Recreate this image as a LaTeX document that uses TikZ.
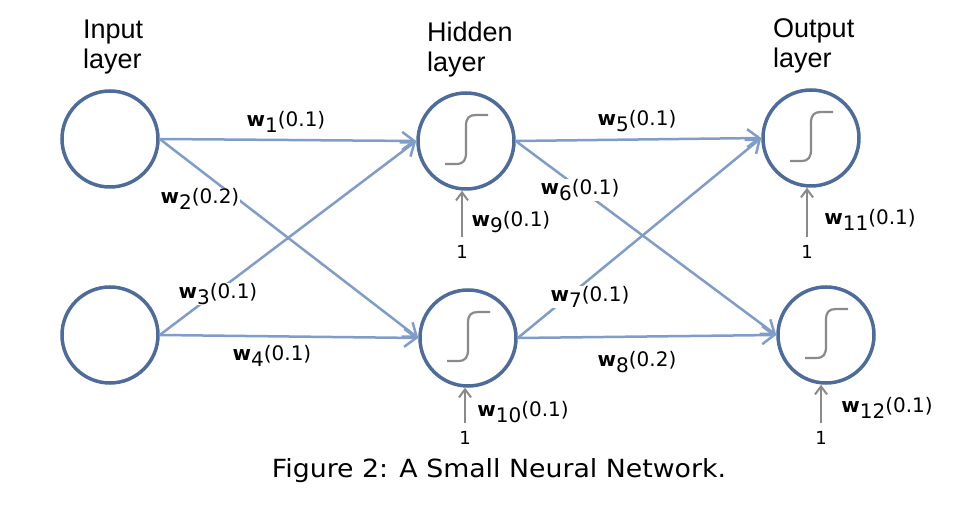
\documentclass[tikz,border=0pt]{standalone}
\usepackage{fontspec}
\setmainfont{Liberation Sans}
\newfontfamily\wfont{DejaVu Sans}
\newfontfamily\capfont[FakeStretch=1.07]{DejaVu Sans}
\usetikzlibrary{arrows.meta}
\definecolor{ringblue}{HTML}{4D6C9B}
\definecolor{wireblue}{HTML}{7F9DC8}
\definecolor{sigray}{HTML}{8A8A8A}
\newcommand{\wt}[2]{\textbf{w}\raisebox{-.5ex}{#1}(#2)}
\begin{document}
\begin{tikzpicture}[x=1pt,y=-1pt,>={Straight Barb[length=12pt,width=18pt]},
  neuron/.style={circle,draw=ringblue,line width=3.5pt,minimum size=96pt,inner sep=0pt},
  wire/.style={->,draw=wireblue,line width=2.5pt},
  bias/.style={-{Straight Barb[length=8pt,width=12pt]},draw=sigray,line width=2pt},
  wlab/.style={font=\wfont\fontsize{20}{22}\selectfont,fill=white,inner sep=1pt},
  one/.style={font=\wfont\fontsize{18}{20}\selectfont,inner sep=0pt,outer sep=8pt},
  head/.style={font=\fontsize{27}{30}\selectfont,align=left,anchor=north west,inner sep=0pt},
  pics/sigm/.style={code={\draw[sigray,line width=2.2pt](-21,23)--(-10,23) .. controls (-2,23) and (0,19) .. (0,11)--(0,-15) .. controls (0,-23) and (3,-26) .. (10,-26)--(22,-26);}}]
\useasboundingbox (0,0) rectangle (956,510);
% layers
\node[head] (tin) at (83,20) {Input\\layer};
\node[head] (thid) at (427,22) {Hidden\\layer};
\node[head] (tout) at (773,18) {Output\\layer};
\node[neuron] (i1) at (110,139) {};
\node[neuron] (i2) at (110,335) {};
\node[neuron] (h1) at (466,141) {};
\node[neuron] (h2) at (468,338) {};
\node[neuron] (o1) at (811,138) {};
\node[neuron] (o2) at (826,335) {};
\foreach \n in {h1,h2,o1,o2} \pic at (\n) {sigm};
\foreach \a/\b in {i1/h1,i1/h2,i2/h1,i2/h2,h1/o1,h1/o2,h2/o1,h2/o2}
  \draw[wire] (\a.east) -- (\b.west);
% weights
\node[wlab] (w1) at (286,122) {\wt{1}{0.1}};
\node[wlab] (w2) at (200,199) {\wt{2}{0.2}};
\node[wlab] (w3) at (218,294) {\wt{3}{0.1}};
\node[wlab] (w4) at (272,356) {\wt{4}{0.1}};
\node[wlab] (w5) at (637,121) {\wt{5}{0.1}};
\node[wlab] (w6) at (580,190) {\wt{6}{0.1}};
\node[wlab] (w7) at (590,297) {\wt{7}{0.1}};
\node[wlab] (w8) at (637,362) {\wt{8}{0.2}};
\node[wlab] (w9) at (511,222) {\wt{9}{0.1}};
\node[wlab] (w10) at (523,412) {\wt{10}{0.1}};
\node[wlab] (w11) at (870,220) {\wt{11}{0.1}};
\node[wlab] (w12) at (887,408) {\wt{12}{0.1}};
% bias inputs
\node[one] (b1) at (462,252) {1};
\node[one] (b2) at (807,252) {1};
\node[one] (b3) at (465,438) {1};
\node[one] (b4) at (821,438) {1};
\draw[bias] (b1.north) -- (b1.north |- h1.south);
\draw[bias] (b2.north) -- (b2.north |- o1.south);
\draw[bias] (b3.north) -- (b3.north |- h2.south);
\draw[bias] (b4.north) -- (b4.north |- o2.south);
\node[font=\capfont\fontsize{25}{28}\selectfont,inner sep=0pt,anchor=base] (cap) at (499,477) {Figure 2: A Small Neural Network.};
\end{tikzpicture}
\end{document}
